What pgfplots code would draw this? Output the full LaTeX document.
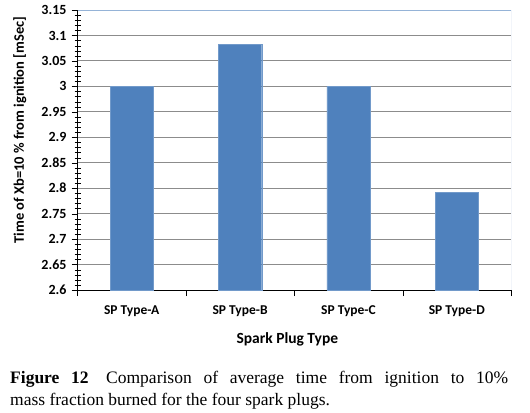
\documentclass[border=0pt]{standalone}
\usepackage{pgfplots}
\pgfplotsset{compat=1.18}
\usepackage{fontspec}
\setmainfont{Liberation Serif}
\newfontfamily\carlito{Carlito}

\definecolor{barblue}{HTML}{4F81BD}
\definecolor{gridgray}{HTML}{8C8C8C}
\definecolor{framblue}{HTML}{95B3D7}

\begin{document}
\begin{tikzpicture}[x=1bp,y=1bp]
  \useasboundingbox (0,0) rectangle (530,412);
  \begin{axis}[
      at={(77.5bp,122bp)}, anchor=south west,
      scale only axis, width=433.5bp, height=280bp,
      axis lines=left, axis line style={-, black},
      xmin=-0.5, xmax=3.5,
      ymin=2.6, ymax=3.15,
      xtick={0,1,2,3},
      xticklabels={SP Type-A, SP Type-B, SP Type-C, SP Type-D},
      major x tick style={draw=none},
      minor xtick={-0.5,0.5,1.5,2.5,3.5},
      minor x tick style={black},
      ytick={2.6,2.65,2.7,2.75,2.8,2.85,2.9,2.95,3,3.05,3.1,3.15},
      yticklabels={2.6,2.65,2.7,2.75,2.8,2.85,2.9,2.95,3,3.05,3.1,3.15},
      minor y tick num=4,
      minor y tick style={black, xshift=3bp},
      major y tick style={black},
      tick align=outside,
      major tick length=6bp, minor tick length=6bp,
      ymajorgrids, major grid style={gridgray, line width=0.9bp},
      xticklabel style={font=\carlito\bfseries\fontsize{13.5bp}{15bp}\selectfont, yshift=-6bp},
      yticklabel style={font=\carlito\bfseries\fontsize{14bp}{15bp}\selectfont, xshift=-1.5bp},
      xlabel={Spark Plug Type},
      ylabel={Time of Xb=10 \% from ignition [mSec]},
      every axis x label/.style={at={(axis description cs:0.484,-0.175)}, anchor=center,
        font=\carlito\bfseries\fontsize{15.5bp}{17bp}\selectfont},
      every axis y label/.style={at={(axis description cs:-0.133,0.571)}, rotate=90, anchor=center,
        font=\carlito\bfseries\fontsize{14.5bp}{16bp}\selectfont},
      ybar, bar width=0.4,
    ]
    \addplot[fill=barblue, draw=barblue!80!white] coordinates {(0,3.000) (1,3.083) (2,3.000) (3,2.792)};
    \draw[framblue, line width=0.8bp] (rel axis cs:0,1) -- (rel axis cs:1,1) -- (rel axis cs:1,0);
  \end{axis}
  \node[anchor=north west, inner sep=0pt, text width=498bp, align=justify,
        font=\fontsize{17.5bp}{22bp}\selectfont] at (10,41)
    {\textbf{Figure 12}\quad Comparison of average time from ignition to 10\%\linebreak mass fraction burned for the four spark plugs.};
\end{tikzpicture}
\end{document}
